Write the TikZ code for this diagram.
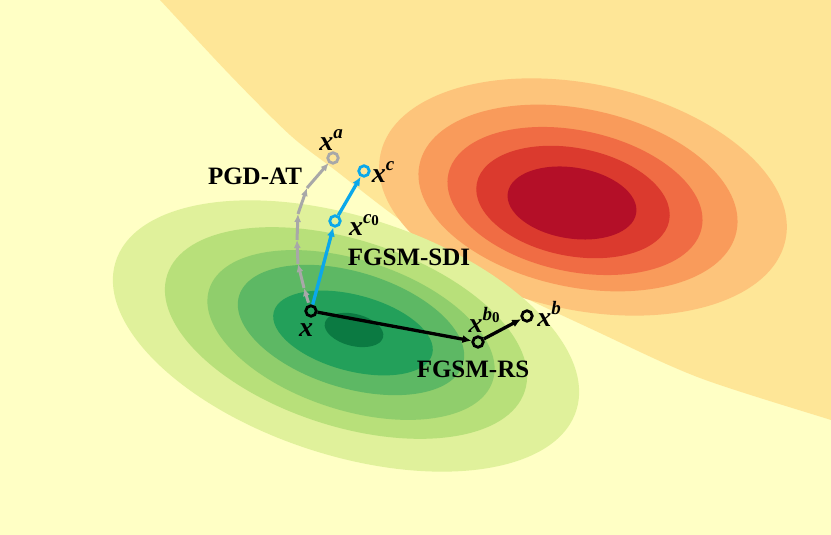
\documentclass[tikz,border=0pt]{standalone}
\usepackage{fontspec}
\setmainfont{Liberation Serif}
\usetikzlibrary{arrows.meta}
\definecolor{bgy}{HTML}{FFFFC5}
\definecolor{org}{HTML}{FEE697}
\definecolor{rA}{HTML}{FDC47B}
\definecolor{rB}{HTML}{F99B5B}
\definecolor{rC}{HTML}{F06C44}
\definecolor{rD}{HTML}{DB3A2E}
\definecolor{rE}{HTML}{B40F28}
\definecolor{gA}{HTML}{E0F19B}
\definecolor{gB}{HTML}{B8E07A}
\definecolor{gC}{HTML}{90CE6C}
\definecolor{gD}{HTML}{5DB864}
\definecolor{gE}{HTML}{23A05A}
\definecolor{gF}{HTML}{0B7A42}
\definecolor{sdiblue}{HTML}{0BA8EA}
\definecolor{pgdgray}{HTML}{A8A8A8}
\newcommand{\supr}[1]{\raisebox{0.42em}{\fontsize{19}{20}\selectfont #1}}
\newcommand{\subr}[1]{\raisebox{-0.12em}{\fontsize{15}{16}\selectfont\upshape #1}}
\tikzset{
  pt/.style={circle,draw,line width=2.8pt,minimum size=10.5pt,inner sep=0pt},
  lbl/.style={font=\fontsize{25}{30}\selectfont\bfseries,inner sep=0pt},
  mlbl/.style={font=\fontsize{28}{30}\selectfont\bfseries\itshape,inner sep=0pt},
  arr/.style={line width=3.3pt,-{Latex[length=9pt,width=8pt]}},
  garr/.style={line width=3pt,pgdgray,-{Latex[length=8pt,width=7pt]}}
}
\begin{document}
\begin{tikzpicture}[x=1pt,y=1pt]
\useasboundingbox (0,0) rectangle (831,535);
\fill[bgy] (0,0) rectangle (831,535);
% orange half-plane
\fill[org] plot[smooth] coordinates {(155,540) (160,535) (230,460) (290,400) (335,365) (400,315) (480,260) (600,202) (700,157) (831,115) (840,112)} -- (840,540) -- cycle;
% red bump
\fill[rA,rotate around={-12:(583,338)}] (583,338) ellipse [x radius=207,y radius=113];
\fill[rB,rotate around={-12:(578,337)}] (578,337) ellipse [x radius=162,y radius=89];
\fill[rC,rotate around={-12:(575,334)}] (575,334) ellipse [x radius=129.5,y radius=70.5];
\fill[rD,rotate around={-11:(573,333)}] (573,333) ellipse [x radius=98,y radius=54];
\fill[rE,rotate around={-9:(572,332)}] (572,332) ellipse [x radius=65,y radius=35.5];
% green basin
\fill[gA,rotate around={-18:(346,199)}] (346,199) ellipse [x radius=242,y radius=119];
\fill[gB,rotate around={-18:(346,202)}] (346,202) ellipse [x radius=188,y radius=93];
\fill[gC,rotate around={-18:(351,200)}] (351,200) ellipse [x radius=149,y radius=75];
\fill[gD,rotate around={-17:(351,205)}] (351,205) ellipse [x radius=117,y radius=58];
\fill[gE,rotate around={-15:(353,202)}] (353,202) ellipse [x radius=82,y radius=38];
\fill[gF,rotate around={-14:(354,205)}] (354,205) ellipse [x radius=30,y radius=16];
% points
\node[pt,draw=black] (x) at (311,224) {};
\node[pt,draw=black] (xb0) at (478,193) {};
\node[pt,draw=black] (xb) at (527,219) {};
\node[pt,draw=sdiblue] (xc0) at (335,314) {};
\node[pt,draw=sdiblue] (xc) at (364,364) {};
\node[pt,draw=pgdgray] (xa) at (333,377) {};
\coordinate (p1) at (304,247);
\coordinate (p2) at (298,271);
\coordinate (p3) at (297,295);
\coordinate (p4) at (298,321);
\coordinate (p5) at (307,347);
% PGD-AT path
\draw[garr,shorten <=2pt] (x) -- (p1);
\draw[garr] (p1) -- (p2);
\draw[garr] (p2) -- (p3);
\draw[garr] (p3) -- (p4);
\draw[garr] (p4) -- (p5);
\draw[garr] (p5) -- (xa);
% FGSM-SDI
\draw[arr,sdiblue] (x) -- (xc0);
\draw[arr,sdiblue] (xc0) -- (xc);
% FGSM-RS
\draw[arr,black] (x) -- (xb0);
\draw[arr,black] (xb0) -- (xb);
% labels
\node[mlbl] (lx) at (306,205) {x};
\node[mlbl] (lxa) at (331,395) {x\supr{a}};
\node[mlbl] (lxc) at (383,363) {x\supr{c}};
\node[mlbl] (lxc0) at (364,310) {x\supr{c\subr{0}}};
\node[mlbl] (lxb0) at (484,215) {x\supr{b\subr{0}}};
\node[mlbl] (lxb) at (549,221) {x\supr{b}};
\node[lbl] (pgd) at (255,359) {PGD-AT};
\node[lbl] (sdi) at (409,278) {FGSM-SDI};
\node[lbl] (rs) at (473,166) {FGSM-RS};
\end{tikzpicture}
\end{document}
